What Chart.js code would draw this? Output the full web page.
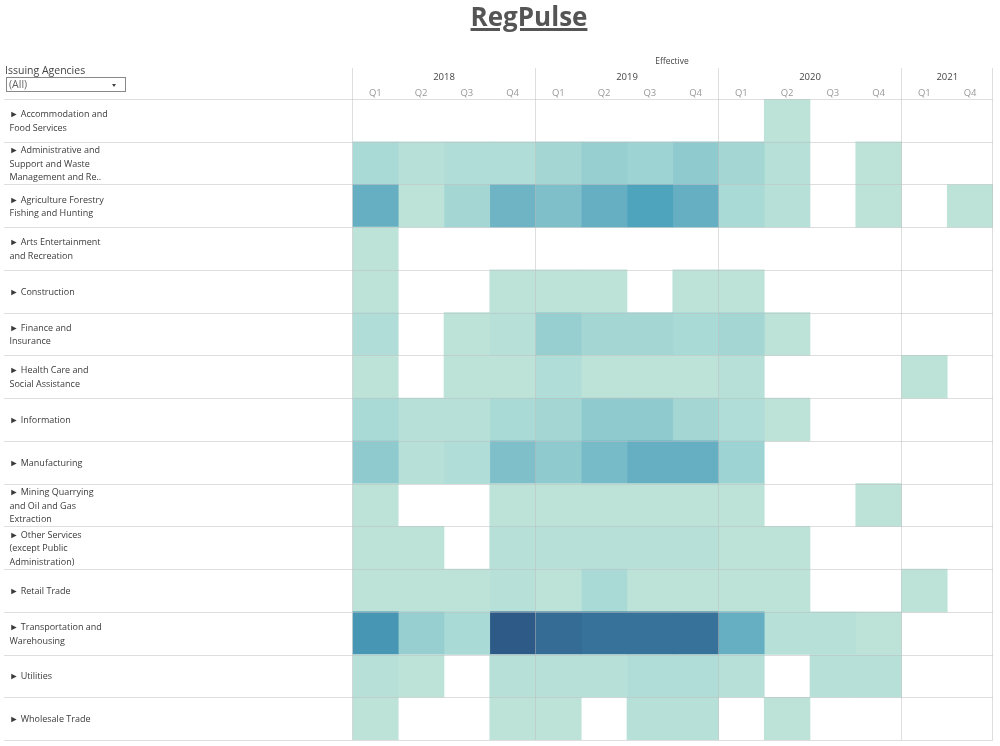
<!DOCTYPE html>
<html>
<head>
<meta charset="utf-8">
<title>RegPulse</title>
<script src="https://cdn.jsdelivr.net/npm/chart.js@4/dist/chart.umd.min.js"></script>
<style>
    html, body { margin: 0; padding: 0; background: #fff; }
    #page { position: relative; width: 1000px; height: 746px; overflow: hidden; font-family: "Open Sans", sans-serif; }
    #heading { position: absolute; left: 58px; right: 0; top: -3px; text-align: center; font-family: "Open Sans", sans-serif; font-size: 26px; line-height: 38px; font-weight: 700; color: #555; text-decoration: underline; text-decoration-thickness: 3px; }
    #filter-label { position: absolute; left: 5px; top: 63px; font-size: 10.5px; line-height: 14px; color: #444; }
    #filter { position: absolute; left: 6px; top: 77px; width: 118px; height: 13px; border: 1px solid #888; font-size: 10.5px; line-height: 13px; color: #666; }
    #filter span { position: absolute; left: 2px; top: 0; }
    #filter i { position: absolute; right: 9px; top: 6px; border-left: 2px solid transparent; border-right: 2px solid transparent; border-top: 3px solid #444; }
    canvas { position: absolute; left: 0; top: 0; }
</style>
</head>
<body>
<div id="page">
    <canvas id="chart-heat" width="1000" height="746"></canvas>
    <div id="heading">RegPulse</div>
    <div id="filter-label">Issuing Agencies</div>
    <div id="filter"><span>(All)</span><i></i></div>
</div>
<script>
var industries = [
    ['\u25BA Accommodation and', 'Food Services'],
    ['\u25BA Administrative and', 'Support and Waste', 'Management and Re..'],
    ['\u25BA Agriculture Forestry', 'Fishing and Hunting'],
    ['\u25BA Arts Entertainment', 'and Recreation'],
    ['\u25BA Construction'],
    ['\u25BA Finance and', 'Insurance'],
    ['\u25BA Health Care and', 'Social Assistance'],
    ['\u25BA Information'],
    ['\u25BA Manufacturing'],
    ['\u25BA Mining Quarrying', 'and Oil and Gas', 'Extraction'],
    ['\u25BA Other Services', '(except Public', 'Administration)'],
    ['\u25BA Retail Trade'],
    ['\u25BA Transportation and', 'Warehousing'],
    ['\u25BA Utilities'],
    ['\u25BA Wholesale Trade']
];
var quarters = ['Q1', 'Q2', 'Q3', 'Q4', 'Q1', 'Q2', 'Q3', 'Q4', 'Q1', 'Q2', 'Q3', 'Q4', 'Q1', 'Q4'];
var years = ['2018', '2019', '2020', '2021'];
var yearStarts = [0, 4, 8, 12, 14];

// estimated from the cell shades, one row per industry
var accommodation = [0, 0, 0, 0, 0, 0, 0, 0, 0, 1, 0, 0, 0, 0];
var administrative = [4, 2, 3, 3, 5, 7, 6, 8, 5, 2, 0, 1, 0, 0];
var agriculture = [13, 1, 5, 12, 10, 13, 16, 13, 4, 2, 0, 1, 0, 1];
var arts = [1, 0, 0, 0, 0, 0, 0, 0, 0, 0, 0, 0, 0, 0];
var construction = [1, 0, 0, 1, 1, 1, 0, 1, 1, 0, 0, 0, 0, 0];
var finance = [3, 0, 1, 2, 7, 5, 5, 4, 5, 1, 0, 0, 0, 0];
var health = [1, 0, 1, 1, 3, 1, 1, 1, 2, 0, 0, 0, 1, 0];
var information = [4, 2, 2, 4, 5, 8, 8, 5, 3, 1, 0, 0, 0, 0];
var manufacturing = [8, 2, 3, 10, 8, 11, 13, 13, 6, 0, 0, 0, 0, 0];
var mining = [1, 0, 0, 1, 1, 1, 1, 1, 1, 0, 0, 1, 0, 0];
var otherServices = [1, 1, 0, 2, 2, 2, 2, 2, 1, 1, 0, 0, 0, 0];
var retail = [1, 1, 1, 2, 1, 4, 1, 1, 1, 1, 0, 0, 1, 0];
var transportation = [18, 7, 4, 28, 25, 24, 24, 24, 13, 2, 2, 1, 0, 0];
var utilities = [2, 1, 0, 2, 2, 2, 3, 3, 2, 0, 2, 2, 0, 0];
var wholesale = [1, 0, 0, 1, 1, 0, 2, 2, 0, 1, 0, 0, 0, 0];

var rows = [accommodation, administrative, agriculture, arts, construction, finance, health,
    information, manufacturing, mining, otherServices, retail, transportation, utilities, wholesale];

var rampValues = [1, 4, 7, 10, 13, 16, 20, 24, 28];
var rampColors = [[189, 227, 217], [170, 218, 214], [151, 207, 209], [127, 191, 202], [102, 175, 195],
    [79, 164, 189], [60, 136, 171], [54, 114, 154], [45, 90, 135]];

function shade(v) {
    if (!v) return 'rgba(255,255,255,0)';
    for (var i = 1; i < rampValues.length; i++) {
        if (v <= rampValues[i]) {
            var t = (v - rampValues[i - 1]) / (rampValues[i] - rampValues[i - 1]);
            var a = rampColors[i - 1], b = rampColors[i];
            return 'rgb(' + [0, 1, 2].map(function(k) { return Math.round(a[k] + (b[k] - a[k]) * t); }).join(',') + ')';
        }
    }
    return 'rgb(45,90,135)';
}

// every cell is one unit wide, stacked along the quarters
var datasets = quarters.map(function(q, col) {
    return {
        label: q,
        data: rows.map(function() { return 1; }),
        backgroundColor: rows.map(function(r) { return shade(r[col]); }),
        barPercentage: 1,
        categoryPercentage: 1,
        borderWidth: 0
    };
});

var headerAndRules = {
    id: 'headerAndRules',
    afterDatasetsDraw: function(chart) {
        var ctx = chart.ctx, area = chart.chartArea, x = chart.scales.x;
        var rowH = (area.bottom - area.top) / rows.length;
        ctx.save();
        ctx.lineWidth = 1;
        ctx.strokeStyle = 'rgba(190,190,190,0.5)';
        for (var i = 0; i <= rows.length; i++) {
            var py = Math.round(area.top + i * rowH) + 0.5;
            ctx.beginPath();
            ctx.moveTo(4, py);
            ctx.lineTo(area.right, py);
            ctx.stroke();
        }
        yearStarts.forEach(function(s) {
            var px = Math.round(x.getPixelForValue(s)) - 0.5;
            ctx.beginPath();
            ctx.moveTo(px, 68);
            ctx.lineTo(px, area.bottom);
            ctx.stroke();
        });
        ctx.textAlign = 'center';
        ctx.textBaseline = 'middle';
        ctx.fillStyle = '#444';
        ctx.font = '9.5px "Open Sans", sans-serif';
        years.forEach(function(y, i) {
            var mid = (x.getPixelForValue(yearStarts[i]) + x.getPixelForValue(yearStarts[i + 1])) / 2;
            ctx.fillText(y, mid, 77);
        });
        ctx.font = '8.5px "Open Sans", sans-serif';
        ctx.fillText('Effective', 672, 62);
        ctx.restore();
    }
};

document.addEventListener('DOMContentLoaded', function() {
    new Chart(document.getElementById('chart-heat').getContext('2d'), {
        type: 'bar',
        data: { labels: industries, datasets: datasets },
        plugins: [headerAndRules],
        options: {
            indexAxis: 'y',
            responsive: false,
            animation: false,
            layout: { padding: { left: 9.5, right: 7, top: 0, bottom: 6 } },
            plugins: { legend: { display: false }, tooltip: { enabled: false } },
            scales: {
                x: { display: false, stacked: true, min: 0, max: quarters.length },
                q: {
                    type: 'category',
                    axis: 'x',
                    position: 'top',
                    labels: quarters,
                    offset: true,
                    grid: { display: false, drawTicks: false },
                    border: { display: false },
                    ticks: { autoSkip: false, maxRotation: 0, padding: 0, color: '#999', font: { family: 'Open Sans', size: 9.5 } },
                    afterFit: function(scale) { scale.height = 99; }
                },
                y: {
                    stacked: true,
                    offset: true,
                    grid: { display: false, drawTicks: false },
                    border: { display: false },
                    ticks: {
                        autoSkip: false,
                        crossAlign: 'far',
                        labelOffset: 1,
                        color: '#3a3a3a',
                        font: { family: 'Open Sans', size: 9, lineHeight: 1.52 }
                    },
                    afterFit: function(scale) {
                        scale.width = 343;
                        scale.paddingTop = 0;
                        scale.paddingBottom = 0;
                    }
                }
            }
        }
    });
});
</script>
</body>
</html>
